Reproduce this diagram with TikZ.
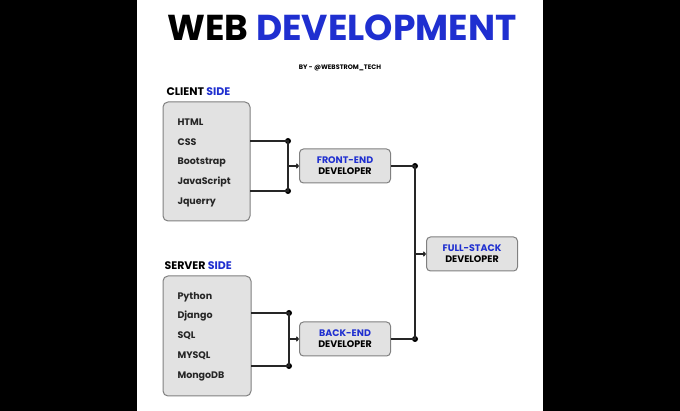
\documentclass[tikz,border=0pt]{standalone}
\usepackage{fontspec}
\setmainfont{Poppins}
\usetikzlibrary{arrows.meta}
\definecolor{webblue}{HTML}{1F2FD0}
\definecolor{boxgray}{HTML}{E2E2E2}
\begin{document}
\begin{tikzpicture}[x=1pt, y=-1pt,
        every node/.style={font=\bfseries},
        listbox/.style={draw=gray, line width=1pt, fill=boxgray, rounded corners=5pt},
        devbox/.style={draw=gray, line width=1pt, fill=boxgray, rounded corners=4pt,
            minimum width=91pt, minimum height=34pt, align=center, font=\bfseries\fontsize{9.5}{11}\selectfont, inner sep=1pt},
        item/.style={anchor=west, font=\bfseries\fontsize{9.5}{11}\selectfont, text=black!85},
        wire/.style={line width=1.1pt, black!85},
        dot/.style={circle, fill=black, inner sep=0pt, minimum size=6pt}
]
    \useasboundingbox (0,0) rectangle (680,411);
    \fill[black] (0,0) rectangle (680,411);
    \fill[white] (137,0) rectangle (543,411);

    \node (title) at (342,28) {\fontsize{36}{38}\selectfont\textbf{WEB \textcolor{webblue}{DEVELOPMENT}}};
    \node (by) at (340,68) {\fontsize{6.5}{7}\selectfont BY - @WEBSTROM\_TECH};

    % client side
    \node[anchor=west, font=\bfseries\fontsize{11}{12}\selectfont] (clientlbl) at (163,92) {CLIENT \textcolor{webblue}{SIDE}};
    \draw[listbox] (163,102) rectangle (250,221);
    \coordinate (c1) at (250,141);
    \coordinate (c2) at (250,191);
    \node[item] (html) at (174,122) {HTML};
    \node[item] (css) at (174,142) {CSS};
    \node[item] (boot) at (174,162) {Bootstrap};
    \node[item] (js) at (174,182) {JavaScript};
    \node[item] (jq) at (174,202) {Jquerry};

    % server side
    \node[anchor=west, font=\bfseries\fontsize{11}{12}\selectfont] (serverlbl) at (161,266) {SERVER \textcolor{webblue}{SIDE}};
    \draw[listbox] (163,276) rectangle (251,396);
    \coordinate (s1) at (251,313);
    \coordinate (s2) at (251,366);
    \node[item] (py) at (174,297) {Python};
    \node[item] (dj) at (174,316) {Django};
    \node[item] (sql) at (174,336) {SQL};
    \node[item] (my) at (174,356) {MYSQL};
    \node[item] (mongo) at (174,376) {MongoDB};

    % developers
    \node[devbox] (front) at (345,166) {\textcolor{webblue}{FRONT-END}\\DEVELOPER};
    \node[devbox] (back) at (345,339) {\textcolor{webblue}{BACK-END}\\DEVELOPER};
    \node[devbox] (full) at (472,254) {\textcolor{webblue}{FULL-STACK}\\DEVELOPER};

    \node[dot] (fd1) at (288,141) {};
    \node[dot] (fd2) at (288,191) {};
    \node[dot] (bd1) at (289,313) {};
    \node[dot] (bd2) at (289,366) {};
    \node[dot] (fo) at (415,166) {};
    \node[dot] (bo) at (415,339) {};
    \coordinate (fm) at (288,166);
    \coordinate (bm) at (289,339);
    \coordinate (sm) at (415,254);

    \draw[wire] (c1) -- (fd1.center) -- (fd2.center) -- (c2);
    \draw[wire] (s1) -- (bd1.center) -- (bd2.center) -- (s2);
    \draw[wire, -{To[length=3pt,width=5pt]}] (fm) -- (front);
    \draw[wire, -{To[length=3pt,width=5pt]}] (bm) -- (back);
    \draw[wire] (front) -- (fo.center) -- (bo.center) -- (back);
    \draw[wire, -{To[length=3pt,width=5pt]}] (sm) -- (full);
\end{tikzpicture}
\end{document}
